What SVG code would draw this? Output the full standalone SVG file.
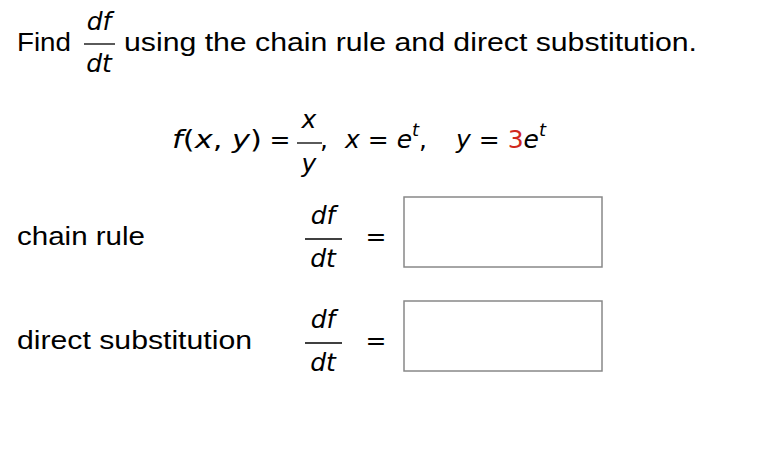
<svg xmlns="http://www.w3.org/2000/svg" width="780" height="464" viewBox="0 0 780 464">
<style>
.t{font-family:"Liberation Sans",Arial,sans-serif;font-size:25px;fill:#000}
.m{font-family:"DejaVu Sans",Verdana,sans-serif;font-size:25px;fill:#000}
.i{font-style:italic}
.bar{stroke:#000;stroke-width:1.3}
.box{fill:#fff;stroke:#888;stroke-width:1.5}
</style>
<rect width="780" height="464" fill="#fff"/>
<g id="header">
<text class="t" x="17" y="51" textLength="54" lengthAdjust="spacingAndGlyphs">Find</text>
<text class="m i" x="99" y="30" text-anchor="middle">df</text>
<line class="bar" x1="84" y1="44" x2="115" y2="44"/>
<text class="m i" x="99" y="72" text-anchor="middle">dt</text>
<text class="t" x="124" y="51" textLength="573" lengthAdjust="spacingAndGlyphs">using the chain rule and direct substitution.</text>
</g>
<g id="formula">
<text class="m" x="172" y="148" textLength="90" lengthAdjust="spacingAndGlyphs"><tspan class="i">f</tspan>(<tspan class="i">x</tspan>, <tspan class="i">y</tspan>)</text>
<text class="m" x="280" y="148" text-anchor="middle">=</text>
<text class="m i" x="309" y="128" text-anchor="middle">x</text>
<line class="bar" x1="297" y1="143" x2="322" y2="143"/>
<text class="m i" x="309" y="172" text-anchor="middle">y</text>
<text class="m" x="320" y="148">,</text>
<text class="m" x="345" y="148"><tspan class="i">x</tspan> = <tspan class="i">e</tspan><tspan class="i" dy="-12" font-size="18">t</tspan><tspan dy="12">,</tspan></text>
<text class="m" x="456" y="148"><tspan class="i">y</tspan> = <tspan fill="#d0281d">3</tspan><tspan class="i">e</tspan><tspan class="i" dy="-12" font-size="18">t</tspan></text>
</g>
<g id="chain">
<text class="t" x="17" y="245" textLength="128" lengthAdjust="spacingAndGlyphs">chain rule</text>
<text class="m i" x="323" y="224" text-anchor="middle">df</text>
<line class="bar" x1="305" y1="239" x2="342" y2="239"/>
<text class="m i" x="323" y="267" text-anchor="middle">dt</text>
<text class="m" x="376" y="245" text-anchor="middle">=</text>
<rect class="box" x="404" y="197" width="198" height="70"/>
</g>
<g id="direct">
<text class="t" x="17" y="349" textLength="235" lengthAdjust="spacingAndGlyphs">direct substitution</text>
<text class="m i" x="323" y="328" text-anchor="middle">df</text>
<line class="bar" x1="305" y1="343" x2="342" y2="343"/>
<text class="m i" x="323" y="371" text-anchor="middle">dt</text>
<text class="m" x="376" y="349" text-anchor="middle">=</text>
<rect class="box" x="404" y="301" width="198" height="70"/>
</g>
<g id="connectors"/>
</svg>
